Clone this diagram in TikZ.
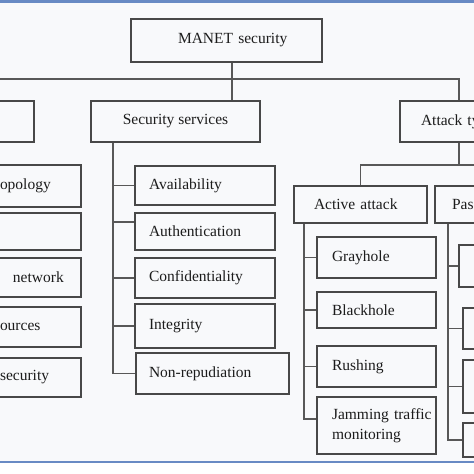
\documentclass[tikz,border=0pt]{standalone}
\usepackage{fontspec}
\setmainfont{Liberation Serif}
\definecolor{bgc}{RGB}{248,249,251}
\definecolor{edgec}{RGB}{72,72,72}
\definecolor{connc}{RGB}{88,88,88}
\definecolor{txtc}{RGB}{28,28,28}
\definecolor{rulec}{RGB}{104,138,196}
\begin{document}
\begin{tikzpicture}[x=1pt,y=-1pt,
  box/.style={draw=edgec, line width=1.3pt, rectangle, inner sep=0pt, text=txtc,
    font=\fontsize{15.5}{20}\selectfont},
  lbox/.style={box, align=left},
  conn/.style={draw=connc, line width=1.3pt}]
\useasboundingbox (0,0) rectangle (474,474);
\clip (0,0) rectangle (474,474);
\fill[white] (0,0) rectangle (474,474);
\fill[bgc] (0,0) rectangle (474,461);
\fill[rulec] (0,0) rectangle (474,2.5);
\fill[rulec] (0,460.5) rectangle (474,462.5);

% top level
\node[lbox, minimum width=191pt, minimum height=43pt, text width=97pt] (manet) at (226.5,40.5) {\mbox{MANET security}};
\node[box, minimum width=36pt, minimum height=41pt] (lt) at (16,121.5) {};
\node[box, minimum width=169pt, minimum height=41pt] (ss) at (175.5,121.5) {Security services};
\node[lbox, minimum width=78pt, minimum height=41pt, text width=36pt] (at) at (439,121.5) {\mbox{Attack ty}};

% left column
\node[lbox, minimum width=83pt, minimum height=42pt, text width=79pt] (l1) at (39.5,186) {opology};
\node[lbox, minimum width=83pt, minimum height=37pt, text width=79pt] (l2) at (39.5,231.5) {};
\node[lbox, minimum width=83pt, minimum height=39pt, text width=79pt] (l3) at (39.5,277.5) {\hspace*{13pt}network};
\node[lbox, minimum width=83pt, minimum height=40pt, text width=79pt] (l4) at (39.5,327) {ources};
\node[lbox, minimum width=83pt, minimum height=39pt, text width=79pt] (l5) at (39.5,377.5) {security};

% security services
\node[lbox, minimum width=140pt, minimum height=39pt, text width=112pt] (av) at (205,185.5) {Availability};
\node[lbox, minimum width=140pt, minimum height=37pt, text width=112pt] (au) at (205,231.5) {Authentication};
\node[lbox, minimum width=140pt, minimum height=40pt, text width=112pt] (co) at (205,278) {Confidentiality};
\node[lbox, minimum width=140pt, minimum height=44pt, text width=112pt] (in) at (205,326) {Integrity};
\node[lbox, minimum width=153pt, minimum height=41pt, text width=127pt] (nr) at (212.5,373.5) {Non-repudiation};

% attack types
\node[lbox, minimum width=133pt, minimum height=37pt, text width=93pt] (aa) at (360.5,204.5) {Active attack};
\node[lbox, minimum width=43pt, minimum height=37pt, text width=9pt] (pa) at (456.5,204.5) {\mbox{Pas}};

\node[lbox, minimum width=119pt, minimum height=41pt, text width=89pt] (gh) at (376.5,257.5) {Grayhole};
\node[lbox, minimum width=119pt, minimum height=36pt, text width=89pt] (bh) at (376.5,310) {Blackhole};
\node[lbox, minimum width=119pt, minimum height=41pt, text width=89pt] (ru) at (376.5,366.5) {Rushing};
\node[lbox, minimum width=119pt, minimum height=57pt, text width=89pt] (jm) at (376.5,425.5) {\mbox{Jamming traffic}\\monitoring};

\node[box, minimum width=19pt, minimum height=42pt] (p1) at (468.5,266) {};
\node[box, minimum width=15pt, minimum height=41pt] (p2) at (470.5,328.5) {};
\node[box, minimum width=15pt, minimum height=53pt] (p3) at (470.5,386.5) {};
\node[box, minimum width=15pt, minimum height=34pt] (p4) at (470.5,440) {};

% connectors
\coordinate (lend) at (-2,79);
\coordinate (rend) at (478,165);
\coordinate (tx) at (232,0);
\coordinate (ax) at (459,0);
\draw[conn] (tx |- manet.south) -- (tx |- ss.north);
\draw[conn] (lend) -| (ax |- at.north);
\draw[conn] (ax |- at.south) -- (ax |- rend);
\draw[conn] (aa.north) |- (rend);

\coordinate (st) at (113,0);
\coordinate (c2) at (113,222);
\draw[conn] (st |- ss.south) |- (nr.west);
\draw[conn] (av.west) -- (av.west -| st);
\draw[conn] (c2) -- (c2 -| au.west);
\draw[conn] (co.west) -- (co.west -| st);
\draw[conn] (in.west) -- (in.west -| st);

\coordinate (atr) at (304,0);
\coordinate (jc) at (304,419);
\draw[conn] (atr |- aa.south) -- (jc) -- (jc -| jm.west);
\draw[conn] (gh.west) -- (gh.west -| atr);
\draw[conn] (bh.west) -- (bh.west -| atr);
\draw[conn] (ru.west) -- (ru.west -| atr);

\coordinate (ptr) at (448,0);
\draw[conn] (ptr |- pa.south) |- (p4.west);
\draw[conn] (p1.west) -- (p1.west -| ptr);
\draw[conn] (p2.west) -- (p2.west -| ptr);
\draw[conn] (p3.west) -- (p3.west -| ptr);
\end{tikzpicture}
\end{document}
